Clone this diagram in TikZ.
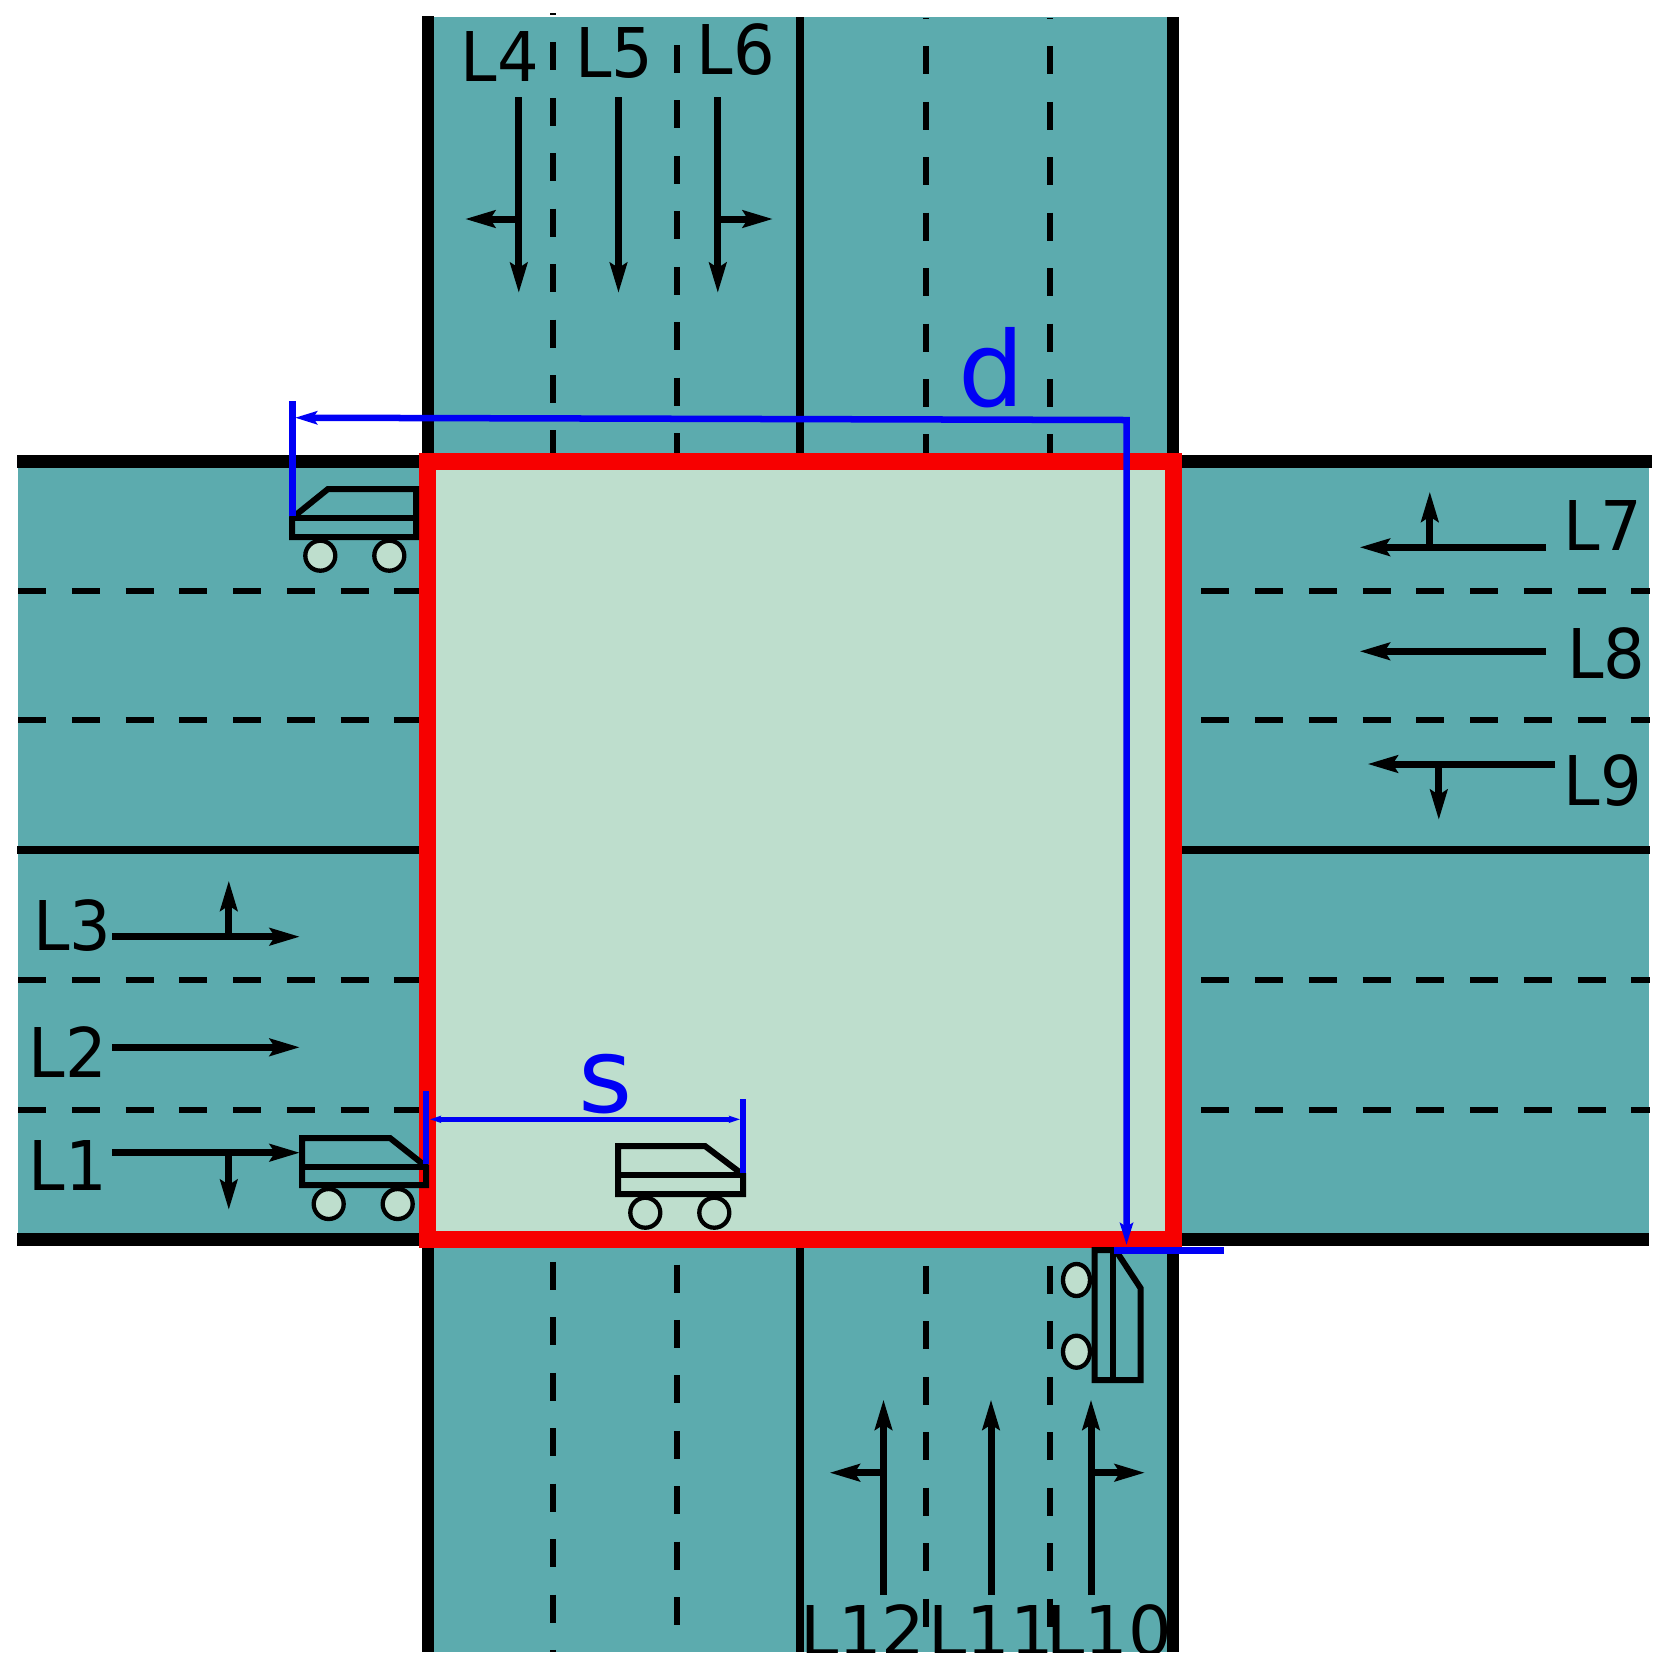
\documentclass[tikz,border=0pt]{standalone}
\usepackage{fontspec}
\setmainfont{DejaVu Sans}
\newfontfamily\shortlabel[FakeStretch=0.955]{DejaVu Sans}
\usetikzlibrary{arrows.meta}
\definecolor{roadcol}{HTML}{5CABAE}
\definecolor{boxcol}{HTML}{BEDECD}
\definecolor{boxred}{HTML}{F70000}
\definecolor{dimblue}{HTML}{0000F5}
\tikzset{
  laneline/.style={line width=0.6mm,dash pattern=on 2.8mm off 2.575mm},
  vlaneline/.style={line width=0.6mm,dash pattern=on 2.8mm off 2.74mm},
  lanearrow/.style={line width=0.7mm,-{Stealth[length=3mm,width=1.7mm,inset=0.5mm]}},
  lanelabel/.style={inner sep=0pt,anchor=base west,font=\fontsize{19.5}{20}\selectfont},
  dimlabel/.style={inner sep=0pt,anchor=base west,text=dimblue,font=\fontsize{29.6}{30}\selectfont},
  carline/.style={line width=0.6mm,line join=miter},
  wheel/.style={line width=0.43mm,fill=boxcol},
  dimline/.style={line width=0.65mm,draw=dimblue}
}
\begin{document}
\begin{tikzpicture}[x=0.01cm,y=-0.01cm]
  \useasboundingbox (0,0) rectangle (1663,1672);
  \begin{scope}
    \clip (0,0) rectangle (1663,1652);
    \fill[roadcol] (18,462) rectangle (1649,1240);
    \fill[roadcol] (428,17) rectangle (1173,1652);

    \foreach \ly in {590.5,720,980,1110}
      \draw[laneline] (18,\ly) -- (1650,\ly);
    \foreach \lx/\ystart/\ph in {552.7/13/26,677/18/28.4,925.5/18/27,1049.5/18/27}
      \draw[vlaneline,dash phase=\ph*0.01cm] (\lx,\ystart) -- (\lx,1652);

    \draw[line width=1.3mm] (17,461.5) -- (1652,461.5);
    \draw[line width=1.3mm] (17,1239.5) -- (1649,1239.5);
    \draw[line width=0.8mm] (17,850) -- (1650,850);
    \draw[line width=1.2mm] (428,16) -- (428,1652);
    \draw[line width=0.8mm] (800,17) -- (800,1652);
    \draw[line width=1.2mm] (1173,17) -- (1173,1652);

    \draw[line width=1.7mm,draw=boxred,fill=boxcol] (427.5,461) rectangle (1173,1239.5);

    \foreach \name/\px/\py in {L1/28/1190.3,L2/28/1077.7,L3/32.5/950,L4/460/81.7,L5/574.5/77.7,L6/696/74,
        L7/1563/550.7,L8/1566.5/678.3,L9/1563/805.3}
      \node (\name) at (\px,\py) [lanelabel] {\shortlabel\name};
    \foreach \name/\px/\py in {L10/1046/1655,L11/927.8/1655,L12/799.3/1655}
      \node (\name) at (\px,\py) [lanelabel] {\name};

    \foreach \lx in {518.8,618.5,717.8}
      \draw[lanearrow] (\lx,97) -- (\lx,293);
    \draw[lanearrow] (518.8,219) -- (465,219);
    \draw[lanearrow] (717.8,219) -- (773,219);

    \foreach \ly in {547.3,651.3}
      \draw[lanearrow] (1546,\ly) -- (1359.5,\ly);
    \draw[lanearrow] (1429.8,547.3) -- (1429.8,491.5);
    \draw[lanearrow] (1555,764) -- (1367.5,764);
    \draw[lanearrow] (1438.8,764) -- (1438.8,820);

    \foreach \ly in {936.7,1047.3,1152.7}
      \draw[lanearrow] (112,\ly) -- (300,\ly);
    \draw[lanearrow] (228.8,936.7) -- (228.8,880.5);
    \draw[lanearrow] (228.8,1152.7) -- (228.8,1210);

    \foreach \lx in {883.5,991,1091}
      \draw[lanearrow] (\lx,1595) -- (\lx,1399.5);
    \draw[lanearrow] (883.5,1472.7) -- (829.5,1472.7);
    \draw[lanearrow] (1091,1472.7) -- (1145,1472.7);

    \draw[carline] (302,1166.5) -- (302,1138) -- (390,1138) -- (426,1166.5) -- (426,1185) -- (302,1185) -- cycle;
    \draw[carline] (302,1166.5) -- (426,1166.5);
    \draw[wheel] (328.7,1204) circle (15);
    \draw[wheel] (397.7,1204) circle (15);

    \draw[carline] (618,1174.7) -- (618,1146) -- (705,1146) -- (743,1174.7) -- (743,1194) -- (618,1194) -- cycle;
    \draw[carline] (618,1174.7) -- (743,1174.7);
    \draw[wheel] (645.3,1212.7) circle (15);
    \draw[wheel] (714.3,1212.7) circle (15);

    \draw[carline] (416,518) -- (416,489) -- (328,489) -- (292,518) -- (292,537) -- (416,537) -- cycle;
    \draw[carline] (292,518) -- (416,518);
    \draw[wheel] (320.3,555.7) circle (15);
    \draw[wheel] (389.3,555.7) circle (15);

    \draw[carline] (1094.5,1250) -- (1115.5,1250) -- (1140.5,1288) -- (1140.5,1380) -- (1094.5,1380) -- cycle;
    \draw[carline] (1113,1250) -- (1113,1380);
    \draw[wheel] (1076.5,1280) ellipse (13.5 and 16);
    \draw[wheel] (1076.5,1351.7) ellipse (13.5 and 16);

    \draw[dimline] (292.7,401) -- (292.7,516);
    \draw[dimline,{Stealth[length=2.2mm,width=1.3mm,inset=0.4mm]}-{Stealth[length=2.2mm,width=1.3mm,inset=0.4mm]}]
      (295,417.7) -- (1126.5,420) -- (1126.5,1245);
    \draw[dimline] (1114,1250.5) -- (1224,1250.5);
    \draw[dimline] (426,1091) -- (426,1164);
    \draw[dimline] (743,1099) -- (743,1173);
    \draw[dimline,line width=0.45mm,{Stealth[length=1.1mm,width=0.7mm,inset=0.2mm]}-{Stealth[length=1.1mm,width=0.7mm,inset=0.2mm]}]
      (430,1119.3) -- (740,1119.3);

    \node (dlabel) at (958,406) [dimlabel] {d};
    \node (slabel) at (577.4,1112.5) [dimlabel] {s};
  \end{scope}
\end{tikzpicture}
\end{document}
